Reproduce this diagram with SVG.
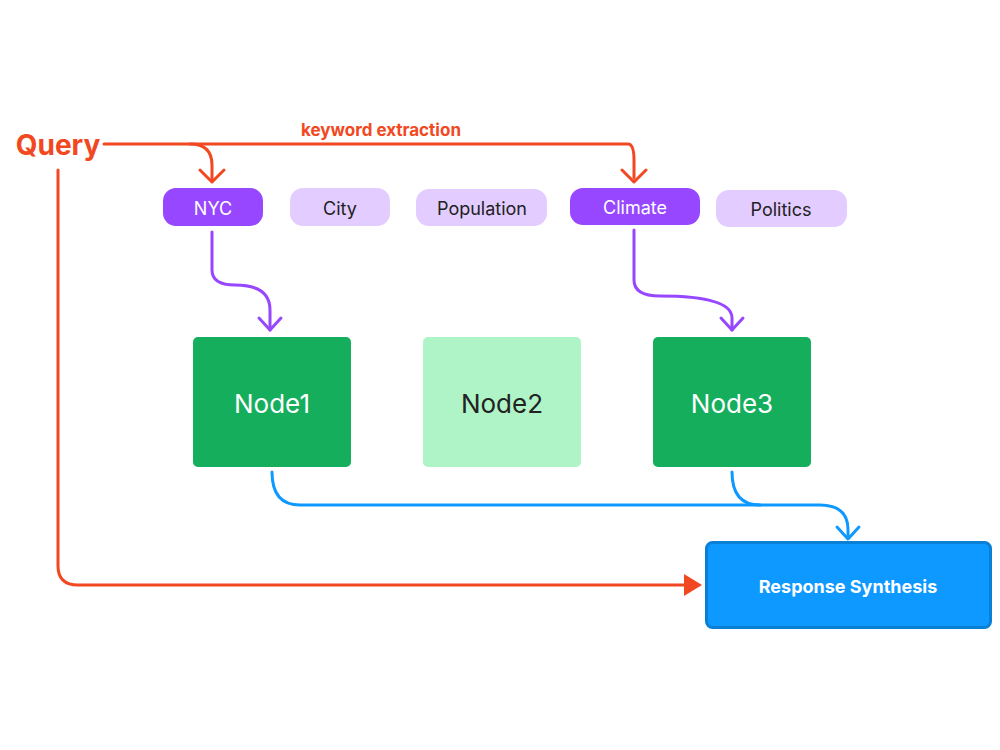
<svg xmlns="http://www.w3.org/2000/svg" width="1000" height="750" viewBox="0 0 1000 750">
<style>
text{font-family:Inter,"Liberation Sans",sans-serif;text-anchor:middle;dominant-baseline:central}
.kw{font-size:18px}
.kwon{fill:#9747ff}.kwoff{fill:#e3ccff}
.node{font-size:26px}
.c{fill:none;stroke-width:3;stroke-linecap:round;stroke-linejoin:round}
.or{stroke:#f24822}.pu{stroke:#9747ff}.bl{stroke:#0d99ff}
</style>
<defs>
<marker id="chevO" viewBox="0 0 20 14" refX="10" refY="12" markerWidth="20" markerHeight="14" markerUnits="userSpaceOnUse" orient="auto-start-reverse"><path d="M1 1 L10 12 L19 1" fill="none" stroke="#f24822" stroke-width="3" stroke-linecap="round" stroke-linejoin="round"/></marker>
</defs>
<rect width="1000" height="750" fill="#fff"/>
<g id="connectors">
<path class="c or" d="M104 144 H628 Q634 144 634 160 V178"/>
<path class="c or" d="M190 144 Q212 144 212 165 V180"/>
<path class="c or" d="M200 170 L212 182 L224 170 M622 170 L634 182 L646 170"/>
<path class="c pu" d="M212 232 V270 Q212 285 235 285 Q270 285 270 310 V330"/>
<path class="c pu" d="M259 318 L270 330 L281 318"/>
<path class="c pu" d="M634 230 V280 Q634 296 660 296 Q732 296 732 318 V330"/>
<path class="c pu" d="M721 318 L732 330 L743 318"/>
<path class="c bl" d="M272 472 Q272 505 300 505 H820 Q848 505 848 530 V538"/>
<path class="c bl" d="M732 472 Q732 505 760 505"/>
<path class="c bl" d="M837 527 L848 539 L859 527"/>
<path class="c or" d="M58 170 V566 Q58 585 78 585 H688"/>
<path d="M684 574 L702 585 L684 596 Z" fill="#f24822"/>
</g>
<g id="query"><text x="58" y="145" font-size="28" font-weight="bold" fill="#f24822">Query</text></g>
<g id="label"><text x="381" y="130" font-size="17" font-weight="bold" fill="#f24822">keyword extraction</text></g>
<g id="kw-nyc"><rect class="kwon" x="163" y="188" width="100" height="38" rx="13"/><text class="kw" x="213" y="208" fill="#fff">NYC</text></g>
<g id="kw-city"><rect class="kwoff" x="290" y="188" width="100" height="38" rx="13"/><text class="kw" x="340" y="208" fill="#222">City</text></g>
<g id="kw-pop"><rect class="kwoff" x="416" y="189" width="131" height="37" rx="13"/><text class="kw" x="482" y="208" fill="#222">Population</text></g>
<g id="kw-climate"><rect class="kwon" x="570" y="188" width="130" height="37" rx="13"/><text class="kw" x="635" y="207" fill="#fff">Climate</text></g>
<g id="kw-politics"><rect class="kwoff" x="716" y="190" width="131" height="37" rx="13"/><text class="kw" x="781" y="209" fill="#222">Politics</text></g>
<g id="node1"><rect x="193" y="337" width="158" height="130" rx="5" fill="#14ae5c"/><text class="node" x="272" y="403" fill="#fff">Node1</text></g>
<g id="node2"><rect x="423" y="337" width="158" height="130" rx="5" fill="#aff4c6"/><text class="node" x="502" y="403" fill="#222">Node2</text></g>
<g id="node3"><rect x="653" y="337" width="158" height="130" rx="5" fill="#14ae5c"/><text class="node" x="732" y="403" fill="#fff">Node3</text></g>
<g id="synth"><rect x="706.500" y="542.500" width="284" height="85" rx="6" fill="#0d99ff" stroke="#0a7fd6" stroke-width="3"/><text x="848" y="586" font-size="18" font-weight="bold" fill="#fff">Response Synthesis</text></g>
</svg>
